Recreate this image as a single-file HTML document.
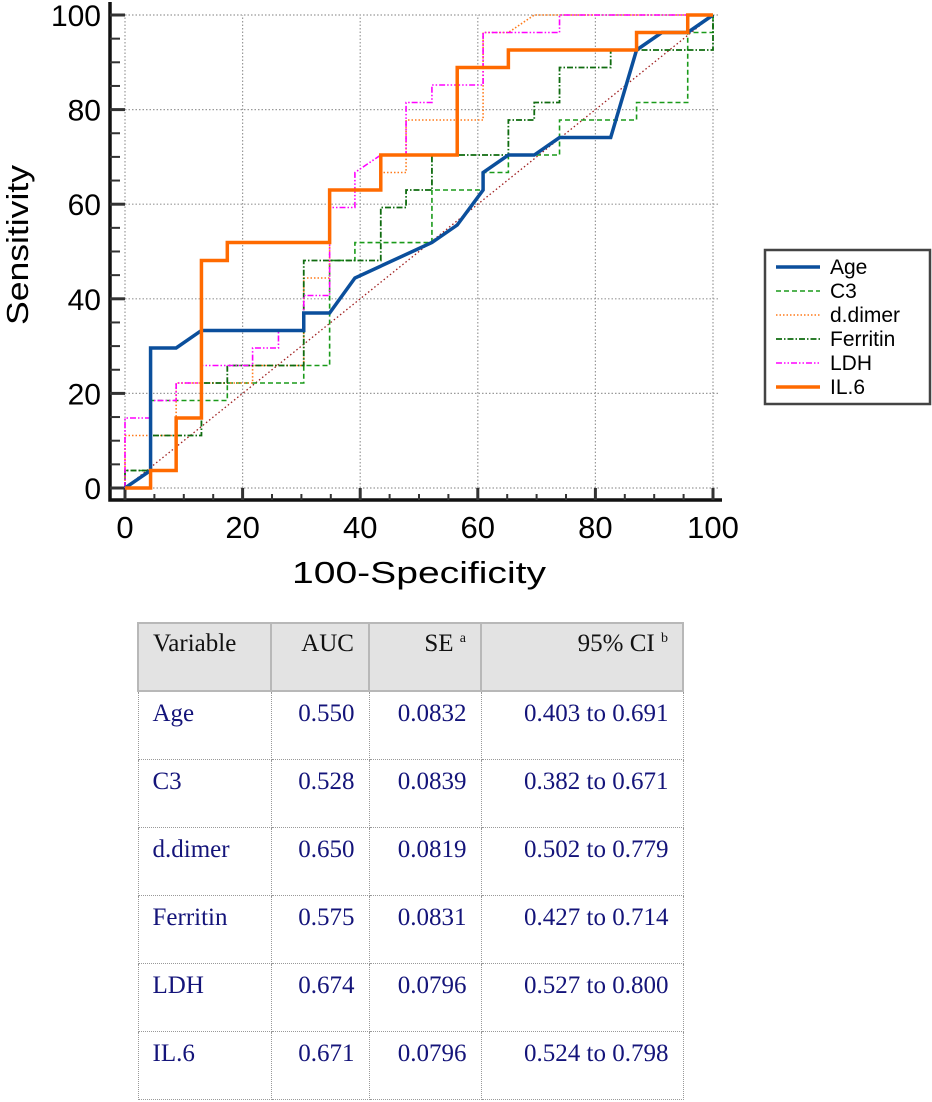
<!DOCTYPE html>
<html><head><meta charset="utf-8"><style>
body{margin:0;background:#fff;width:932px;height:1102px;overflow:hidden;position:relative;font-family:"Liberation Sans",Arial,sans-serif}
svg{position:absolute;left:0;top:0}
table{position:absolute;left:137px;top:622px;border-collapse:collapse;font-family:"Liberation Serif","Times New Roman",serif;font-size:25px;table-layout:fixed}
td,th{height:66px;vertical-align:top;padding:6px 14px 0 14px;font-weight:normal;box-sizing:border-box;white-space:nowrap}
th{background:#e3e3e3;border:2px solid #b8b8b8;color:#111;text-align:right;height:68px}
td{border:1px dotted #999;color:#14147a;text-align:right;height:68px;padding-top:8px}
th:first-child,td:first-child{text-align:left}
sup{font-size:14px;vertical-align:9px}
</style></head><body>
<svg id="chart" width="932" height="600" viewBox="0 0 932 600"></svg>
<table>
<tr><th style="width:133px">Variable</th><th style="width:98px">AUC</th><th style="width:112px">SE <sup>a</sup></th><th style="width:202px">95% CI <sup>b</sup></th></tr>
<tr><td>Age</td><td>0.550</td><td>0.0832</td><td>0.403 to 0.691</td></tr>
<tr><td>C3</td><td>0.528</td><td>0.0839</td><td>0.382 to 0.671</td></tr>
<tr><td>d.dimer</td><td>0.650</td><td>0.0819</td><td>0.502 to 0.779</td></tr>
<tr><td>Ferritin</td><td>0.575</td><td>0.0831</td><td>0.427 to 0.714</td></tr>
<tr><td>LDH</td><td>0.674</td><td>0.0796</td><td>0.527 to 0.800</td></tr>
<tr><td>IL.6</td><td>0.671</td><td>0.0796</td><td>0.524 to 0.798</td></tr>
</table>
<script>
const xTicks=[0,20,40,60,80,100];
const yTicks=[0,20,40,60,80,100];
const ageX=[0,4.35,4.35,8.7,13,30.4,30.4,34.8,39.1,52.2,56.5,60.9,60.9,65.2,69.6,73.9,82.6,87,91.3,95.7,100];
const ageY=[0,3.7,29.6,29.6,33.3,33.3,37,37,44.4,51.9,55.6,63,66.7,70.4,70.4,74.1,74.1,92.6,96.3,96.3,100];
const c3X=[0,0,4.35,4.35,17.4,17.4,30.4,30.4,34.8,34.8,39.1,39.1,52.2,52.2,60.9,60.9,65.2,65.2,73.9,73.9,87,87,95.7,95.7,100,100];
const c3Y=[0,3.7,3.7,18.5,18.5,22.2,22.2,25.9,25.9,48.1,48.1,51.9,51.9,63,63,66.7,66.7,70.4,70.4,77.8,77.8,81.5,81.5,96.3,96.3,100];
const ddX=[0,0,8.7,8.7,21.7,21.7,30.4,30.4,34.8,34.8,43.5,43.5,47.8,47.8,60.9,60.9,65.2,69.6,100];
const ddY=[0,11.1,11.1,22.2,22.2,25.9,25.9,44.4,44.4,63,63,66.7,66.7,77.8,77.8,96.3,96.3,100,100];
const ferX=[0,0,4.35,4.35,13,13,17.4,17.4,30.4,30.4,43.5,43.5,47.8,47.8,52.2,52.2,65.2,65.2,69.6,69.6,73.9,73.9,82.6,82.6,100,100];
const ferY=[0,3.7,3.7,11.1,11.1,22.2,22.2,25.9,25.9,48.1,48.1,59.3,59.3,63,63,70.4,70.4,77.8,77.8,81.5,81.5,88.9,88.9,92.6,92.6,100];
const ldhX=[0,0,4.35,4.35,8.7,8.7,13,13,21.7,21.7,26.1,26.1,30.4,30.4,34.8,34.8,39.1,39.1,43.5,47.8,47.8,52.2,52.2,60.9,60.9,73.9,73.9,100];
const ldhY=[0,14.8,14.8,18.5,18.5,22.2,22.2,25.9,25.9,29.6,29.6,33.3,33.3,40.7,40.7,59.3,59.3,66.7,70.4,70.4,81.5,81.5,85.2,85.2,96.3,96.3,100,100];
const il6X=[0,4.35,4.35,8.7,8.7,13,13,17.4,17.4,34.8,34.8,43.5,43.5,56.5,56.5,65.2,65.2,87,87,95.7,95.7,100];
const il6Y=[0,0,3.7,3.7,14.8,14.8,48.1,48.1,51.9,51.9,63,63,70.4,70.4,88.9,88.9,92.6,92.6,96.3,96.3,100,100];
const seriesNames=["Age","C3","d.dimer","Ferritin","LDH","IL.6"];

const NS="http://www.w3.org/2000/svg";
const svg=document.getElementById('chart');
const sx=v=>125+v*5.88, sy=v=>488-v*4.73;
function mk(t,a,p){const e=document.createElementNS(NS,t);for(const k in a)e.setAttribute(k,a[k]);(p||svg).appendChild(e);return e;}
xTicks.forEach(v=>{const g=mk('line',{x1:sx(v),x2:sx(v),y1:sy(0),y2:sy(100),stroke:'#999','stroke-width':1.2,'stroke-dasharray':'1.5,2'});
});
yTicks.forEach(v=>{const g=mk('line',{x1:sx(0),x2:sx(100)+6,y1:sy(v),y2:sy(v),stroke:'#999','stroke-width':1.2,'stroke-dasharray':'1.5,2'});
});
const ax=mk('path',{d:'M110 2 V500 H722',fill:'none',stroke:'#111','stroke-width':3.5});

for(let v=0;v<=100;v+=5){const maj=v%20===0;
 const t=mk('line',{x1:110,x2:maj?125:120,y1:sy(v),y2:sy(v),stroke:'#333','stroke-width':maj?3:2});
 
 const u=mk('line',{x1:sx(v),x2:sx(v),y1:500,y2:maj?488:494,stroke:'#333','stroke-width':maj?3:2});
 }
yTicks.forEach(v=>{const t=mk('text',{x:101,y:sy(v)+11,'text-anchor':'end','font-size':30,fill:'#000'});t.textContent=v;
});
xTicks.forEach(v=>{const t=mk('text',{x:sx(v),y:538,'text-anchor':'middle','font-size':31,fill:'#000'});t.textContent=v;
});
const xt=mk('text',{x:419,y:583,'text-anchor':'middle','font-size':31,fill:'#000',textLength:254,lengthAdjust:'spacingAndGlyphs'});xt.textContent='100-Specificity';

const yt=mk('text',{x:0,y:0,'text-anchor':'middle','font-size':31,fill:'#000',transform:'translate(28,245) rotate(-90)',textLength:160,lengthAdjust:'spacingAndGlyphs'});yt.textContent='Sensitivity';

const dg=mk('line',{x1:sx(0),y1:sy(0),x2:sx(100),y2:sy(100),stroke:'#a02020','stroke-width':1.3,'stroke-dasharray':'1.5,2.5'});

const styles=[
 {xs:ageX,ys:ageY,c:'#0b4f9c',w:3.5,d:''},
 {xs:c3X,ys:c3Y,c:'#1a9a1a',w:1.6,d:'5,3'},
 {xs:ddX,ys:ddY,c:'#ff7a1a',w:1.6,d:'1.5,2'},
 {xs:ferX,ys:ferY,c:'#0f6b0f',w:1.8,d:'6,2,1.5,2'},
 {xs:ldhX,ys:ldhY,c:'#ff00ff',w:1.6,d:'6,2,1.5,2,1.5,2'},
 {xs:il6X,ys:il6Y,c:'#ff6a00',w:3.5,d:''}];
const order=[1,2,3,4,0,5];
order.forEach(i=>{const s=styles[i];const pts=s.xs.map((x,j)=>sx(x)+','+sy(s.ys[j])).join(' ');
 const p=mk('polyline',{points:pts,fill:'none',stroke:s.c,'stroke-width':s.w,'stroke-dasharray':s.d,'stroke-linejoin':'miter'});
 
 });
const lg=mk('g',{});

mk('rect',{x:765,y:250,width:165,height:154,fill:'#fff',stroke:'#444','stroke-width':2.5},lg);
seriesNames.forEach((n,i)=>{const s=styles[i];const y=267+i*24;
 const e=mk('g',{},lg);
 
 mk('line',{x1:776,x2:820,y1:y,y2:y,stroke:s.c,'stroke-width':s.w,'stroke-dasharray':s.d},e);
 const t=mk('text',{x:830,y:y+7,'font-size':21,fill:'#000'},e);t.textContent=n;});
</script>
</body></html>
